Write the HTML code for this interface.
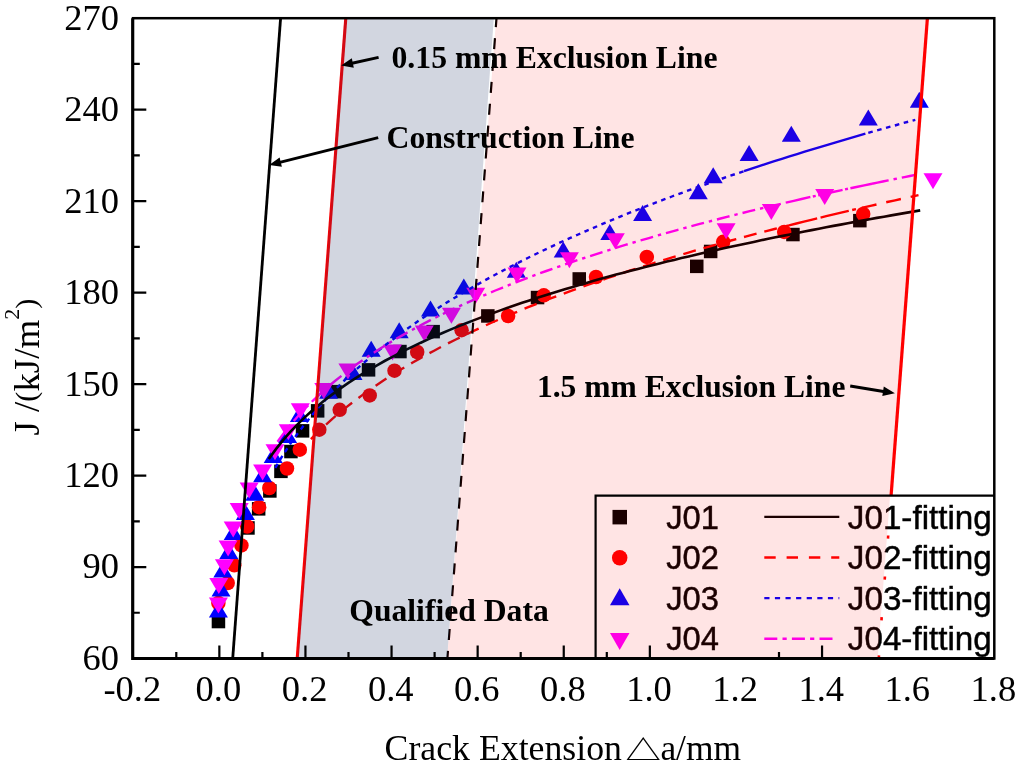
<!DOCTYPE html>
<html lang="en"><head><meta charset="utf-8"><title>J-R curves</title>
<style>html,body{margin:0;padding:0;background:#fff}svg{display:block}.s{font-family:"Liberation Serif","Noto Serif CJK SC",serif}.a{font-family:"Liberation Sans",sans-serif}</style></head><body>
<svg width="1020" height="767" viewBox="0 0 1020 767">
<rect width="1020" height="767" fill="#fff"/>
<defs><clipPath id="cp"><rect x="133.00" y="18.20" width="861.30" height="640.30"/></clipPath></defs>
<g>
<rect width="1020" height="767" fill="#fff"/>
<g clip-path="url(#cp)">
<g><rect x="211.7" y="614.8" width="13.5" height="13.5" fill="#000"/><rect x="241.2" y="521.2" width="13.5" height="13.5" fill="#000"/><rect x="251.9" y="502.1" width="13.5" height="13.5" fill="#000"/><rect x="263.1" y="484.2" width="13.5" height="13.5" fill="#000"/><rect x="274.2" y="464.6" width="13.5" height="13.5" fill="#000"/><rect x="284.2" y="444.8" width="13.5" height="13.5" fill="#000"/><rect x="295.8" y="424.1" width="13.5" height="13.5" fill="#000"/><rect x="310.9" y="404.1" width="13.5" height="13.5" fill="#000"/><rect x="328.1" y="384.9" width="13.5" height="13.5" fill="#000"/><rect x="361.8" y="363.1" width="13.5" height="13.5" fill="#000"/><rect x="393.2" y="344.8" width="13.5" height="13.5" fill="#000"/><rect x="426.4" y="324.9" width="13.5" height="13.5" fill="#000"/><rect x="481.1" y="309.2" width="13.5" height="13.5" fill="#000"/><rect x="530.8" y="290.8" width="13.5" height="13.5" fill="#000"/><rect x="572.5" y="272.2" width="13.5" height="13.5" fill="#000"/><rect x="690.0" y="259.6" width="13.5" height="13.5" fill="#000"/><rect x="703.9" y="244.7" width="13.5" height="13.5" fill="#000"/><rect x="786.2" y="227.8" width="13.5" height="13.5" fill="#000"/><rect x="853.1" y="213.9" width="13.5" height="13.5" fill="#000"/></g>
<g><circle cx="218.4" cy="603.0" r="7.25" fill="#f00"/><circle cx="227.7" cy="583.0" r="7.25" fill="#f00"/><circle cx="234.3" cy="565.3" r="7.25" fill="#f00"/><circle cx="241.4" cy="545.4" r="7.25" fill="#f00"/><circle cx="247.2" cy="526.5" r="7.25" fill="#f00"/><circle cx="259.1" cy="507.2" r="7.25" fill="#f00"/><circle cx="269.3" cy="488.0" r="7.25" fill="#f00"/><circle cx="287.0" cy="468.5" r="7.25" fill="#f00"/><circle cx="299.8" cy="449.7" r="7.25" fill="#f00"/><circle cx="319.3" cy="429.7" r="7.25" fill="#f00"/><circle cx="339.7" cy="409.8" r="7.25" fill="#f00"/><circle cx="369.7" cy="395.4" r="7.25" fill="#f00"/><circle cx="394.5" cy="370.7" r="7.25" fill="#f00"/><circle cx="417.2" cy="352.0" r="7.25" fill="#f00"/><circle cx="461.6" cy="330.2" r="7.25" fill="#f00"/><circle cx="508.1" cy="316.0" r="7.25" fill="#f00"/><circle cx="543.8" cy="295.3" r="7.25" fill="#f00"/><circle cx="596.0" cy="277.0" r="7.25" fill="#f00"/><circle cx="646.8" cy="256.9" r="7.25" fill="#f00"/><circle cx="723.2" cy="241.8" r="7.25" fill="#f00"/><circle cx="784.2" cy="231.9" r="7.25" fill="#f00"/><circle cx="863.2" cy="214.0" r="7.25" fill="#f00"/></g>
<g><polygon points="218.4,601.4 227.9,617.4 208.9,617.4" fill="#00f"/><polygon points="221.0,580.4 230.5,596.4 211.5,596.4" fill="#00f"/><polygon points="222.8,561.5 232.3,577.5 213.3,577.5" fill="#00f"/><polygon points="228.8,543.1 238.3,559.1 219.3,559.1" fill="#00f"/><polygon points="233.2,523.9 242.7,539.9 223.7,539.9" fill="#00f"/><polygon points="245.4,503.9 254.9,519.9 235.9,519.9" fill="#00f"/><polygon points="254.8,484.7 264.3,500.7 245.3,500.7" fill="#00f"/><polygon points="262.6,466.2 272.1,482.2 253.1,482.2" fill="#00f"/><polygon points="273.2,447.0 282.7,463.0 263.7,463.0" fill="#00f"/><polygon points="287.6,427.1 297.1,443.1 278.1,443.1" fill="#00f"/><polygon points="299.4,406.0 308.9,422.0 289.9,422.0" fill="#00f"/><polygon points="328.6,382.7 338.1,398.7 319.1,398.7" fill="#00f"/><polygon points="353.0,363.9 362.5,379.9 343.5,379.9" fill="#00f"/><polygon points="371.2,340.7 380.7,356.7 361.7,356.7" fill="#00f"/><polygon points="399.2,322.2 408.7,338.2 389.7,338.2" fill="#00f"/><polygon points="430.5,300.5 440.0,316.5 421.0,316.5" fill="#00f"/><polygon points="463.8,278.4 473.3,294.4 454.3,294.4" fill="#00f"/><polygon points="516.3,261.7 525.8,277.7 506.8,277.7" fill="#00f"/><polygon points="563.2,241.6 572.7,257.6 553.7,257.6" fill="#00f"/><polygon points="609.8,223.9 619.3,239.9 600.3,239.9" fill="#00f"/><polygon points="642.6,205.0 652.1,221.0 633.1,221.0" fill="#00f"/><polygon points="698.3,183.3 707.8,199.3 688.8,199.3" fill="#00f"/><polygon points="713.2,167.2 722.7,183.2 703.7,183.2" fill="#00f"/><polygon points="749.1,145.0 758.6,161.0 739.6,161.0" fill="#00f"/><polygon points="791.3,125.7 800.8,141.7 781.8,141.7" fill="#00f"/><polygon points="868.3,109.4 877.8,125.4 858.8,125.4" fill="#00f"/><polygon points="919.3,91.7 928.8,107.7 909.8,107.7" fill="#00f"/></g>
</g>
<g><polygon points="208.9,597.5 227.9,597.5 218.4,613.5" fill="#f0f"/><polygon points="209.3,578.1 228.3,578.1 218.8,594.1" fill="#f0f"/><polygon points="214.9,559.2 233.9,559.2 224.4,575.2" fill="#f0f"/><polygon points="218.6,540.6 237.6,540.6 228.1,556.6" fill="#f0f"/><polygon points="223.7,521.6 242.7,521.6 233.2,537.6" fill="#f0f"/><polygon points="229.7,503.0 248.7,503.0 239.2,519.0" fill="#f0f"/><polygon points="239.7,482.5 258.7,482.5 249.2,498.5" fill="#f0f"/><polygon points="253.1,464.4 272.1,464.4 262.6,480.4" fill="#f0f"/><polygon points="265.5,444.3 284.5,444.3 275.0,460.3" fill="#f0f"/><polygon points="278.8,424.3 297.8,424.3 288.3,440.3" fill="#f0f"/><polygon points="290.8,403.3 309.8,403.3 300.3,419.3" fill="#f0f"/><polygon points="314.3,382.9 333.3,382.9 323.8,398.9" fill="#f0f"/><polygon points="338.4,363.4 357.4,363.4 347.9,379.4" fill="#f0f"/><polygon points="383.0,344.5 402.0,344.5 392.5,360.5" fill="#f0f"/><polygon points="414.8,325.5 433.8,325.5 424.3,341.5" fill="#f0f"/><polygon points="441.9,307.8 460.9,307.8 451.4,323.8" fill="#f0f"/><polygon points="466.2,287.8 485.2,287.8 475.7,303.8" fill="#f0f"/><polygon points="507.5,267.4 526.5,267.4 517.0,283.4" fill="#f0f"/><polygon points="559.9,252.2 578.9,252.2 569.4,268.2" fill="#f0f"/><polygon points="605.8,233.3 624.8,233.3 615.3,249.3" fill="#f0f"/><polygon points="716.6,223.2 735.6,223.2 726.1,239.2" fill="#f0f"/><polygon points="761.8,203.9 780.8,203.9 771.3,219.9" fill="#f0f"/><polygon points="815.2,188.9 834.2,188.9 824.7,204.9" fill="#f0f"/><polygon points="923.5,173.2 942.5,173.2 933.0,189.2" fill="#f0f"/></g>
<g clip-path="url(#cp)">
<polyline points="275.3,467.8 282.5,455.8 289.7,444.7 296.9,434.5 304.2,424.9 311.4,416.0 318.6,407.5 325.8,399.5 333.0,391.9 340.2,384.6 347.4,377.6 354.6,370.9 361.8,364.5 369.1,358.3 376.3,352.4 383.5,346.6 390.7,341.0 397.9,335.6 405.1,330.3 412.3,325.2 419.5,320.2 426.7,315.4 433.9,310.7 441.2,306.1 448.4,301.6 455.6,297.2 462.8,292.9 470.0,288.7 477.2,284.6 484.4,280.6 491.6,276.7 498.8,272.8 506.1,269.0 513.3,265.3 520.5,261.6 527.7,258.0 534.9,254.5 542.1,251.0 549.3,247.6 556.5,244.2 563.7,240.9 570.9,237.7 578.2,234.5 585.4,231.3 592.6,228.2 599.8,225.1 607.0,222.1 614.2,219.1 621.4,216.1 628.6,213.2 635.8,210.4 643.1,207.5 650.3,204.7 657.5,202.0 664.7,199.2 671.9,196.5 679.1,193.9 686.3,191.2 693.5,188.6 700.7,186.1 707.9,183.5 715.2,181.0 722.4,178.5 729.6,176.0 736.8,173.6 744.0,171.2" fill="none" stroke="#00f" stroke-width="2.4" stroke-dasharray="4.6 4.6"/><polyline points="744.0,171.2 751.6,168.6 759.2,166.1 766.8,163.7 774.4,161.2 781.9,158.8 789.5,156.4 797.1,154.1 804.7,151.7 812.3,149.4 819.9,147.1 827.5,144.8 835.0,142.6 842.6,140.3 850.2,138.1 857.8,135.9 865.4,133.7" fill="none" stroke="#00f" stroke-width="2.4"/><polyline points="865.4,133.7 871.6,131.9 877.9,130.2 884.1,128.4 890.3,126.7 896.6,125.0 902.8,123.2 909.1,121.5 915.3,119.8" fill="none" stroke="#00f" stroke-width="2.4" stroke-dasharray="0 3 4.6 1.6"/>
<polyline points="277.5,441.8 284.7,432.0 292.0,423.0 299.3,414.7 306.5,407.0 313.8,399.8 321.1,393.0 328.3,386.5 335.6,380.5 342.9,374.7 350.1,369.1 357.4,363.8 364.6,358.8 371.9,353.9 379.2,349.2 386.4,344.7 393.7,340.3 401.0,336.1 408.2,332.0 415.5,328.0 422.8,324.1 430.0,320.4 437.3,316.7 444.6,313.2 451.8,309.7 459.1,306.3 466.4,303.0 473.6,299.8 480.9,296.6 488.1,293.6 495.4,290.5 502.7,287.6 509.9,284.7 517.2,281.8 524.5,279.1 531.7,276.3 539.0,273.6 546.3,271.0 553.5,268.4 560.8,265.9 568.1,263.4 575.3,260.9 582.6,258.5 589.9,256.1 597.1,253.8 604.4,251.5 611.6,249.2 618.9,246.9 626.2,244.7 633.4,242.5 640.7,240.4 648.0,238.3 655.2,236.2 662.5,234.1 669.8,232.1 677.0,230.1 684.3,228.1 691.6,226.1 698.8,224.2 706.1,222.3 713.4,220.4 720.6,218.5 727.9,216.7 735.1,214.8 742.4,213.0 749.7,211.2 756.9,209.5 764.2,207.7 771.5,206.0 778.7,204.3 786.0,202.6" fill="none" stroke="#f0f" stroke-width="2.4" stroke-dasharray="13 5 3.4 5"/><polyline points="786.0,202.6 793.8,200.8 801.6,199.0 809.5,197.2 817.3,195.5 825.1,193.7 832.9,192.0 840.7,190.3 848.5,188.6 856.4,187.0 864.2,185.3 872.0,183.7" fill="none" stroke="#f0f" stroke-width="2.4" stroke-dasharray="25 2.5 3 2.5"/><polyline points="872.0,183.7 877.4,182.6 882.8,181.5 888.2,180.4 893.6,179.3 899.1,178.2 904.5,177.1 909.9,176.0 915.3,174.9" fill="none" stroke="#f0f" stroke-width="2.4" stroke-dasharray="17 5 3.4 5"/>
<polyline points="310.9,439.1 318.2,431.9 325.4,425.1 332.6,418.6 339.9,412.5 347.1,406.6 354.4,401.0 361.6,395.6 368.9,390.4 376.1,385.4 383.4,380.5 390.6,375.9 397.8,371.3 405.1,367.0 412.3,362.7 419.6,358.6 426.8,354.6 434.1,350.7 441.3,346.8 448.5,343.1 455.8,339.5 463.0,336.0 470.3,332.5 477.5,329.1 484.8,325.8 492.0,322.5 499.3,319.4 506.5,316.2 513.7,313.2 521.0,310.2 528.2,307.2 535.5,304.3 542.7,301.5 550.0,298.7 557.2,296.0 564.4,293.3 571.7,290.6 578.9,288.0 586.2,285.4 593.4,282.9 600.7,280.4 607.9,277.9 615.2,275.5 622.4,273.1 629.6,270.7 636.9,268.4 644.1,266.1 651.4,263.8 658.6,261.5 665.9,259.3 673.1,257.1 680.3,255.0 687.6,252.8 694.8,250.7 702.1,248.6 709.3,246.6 716.6,244.5 723.8,242.5 731.1,240.5 738.3,238.6 745.5,236.6 752.8,234.7 760.0,232.8 767.3,230.9 774.5,229.0 781.8,227.2 789.0,225.3" fill="none" stroke="#f00" stroke-width="2.4" stroke-dasharray="13 8"/><polyline points="789.0,225.3 796.4,223.5 803.9,221.6 811.3,219.8 818.8,218.0 826.2,216.2 833.7,214.4 841.1,212.6 848.6,210.9 856.0,209.1" fill="none" stroke="#f00" stroke-width="2.4" stroke-dasharray="29 3.5"/><polyline points="856.0,209.1 863.8,207.3 871.6,205.6 879.4,203.8 887.2,202.0 895.1,200.3 902.9,198.6 910.7,196.9 918.5,195.2" fill="none" stroke="#f00" stroke-width="2.4" stroke-dasharray="0 6 15 4"/>
<polyline points="268.8,458.9 276.1,448.9 283.3,439.9 290.5,431.7 297.8,424.1 305.0,417.1 312.2,410.5 319.5,404.4 326.7,398.6 334.0,393.1 341.2,387.9 348.4,382.9 355.7,378.2 362.9,373.6 370.1,369.3 377.4,365.1 384.6,361.0 391.9,357.1 399.1,353.3 406.3,349.7 413.6,346.2 420.8,342.7 428.0,339.4 435.3,336.1 442.5,333.0 449.8,329.9 457.0,326.9 464.2,324.0 471.5,321.1 478.7,318.4 485.9,315.6 493.2,313.0 500.4,310.4 507.7,307.8 514.9,305.3 522.1,302.8 529.4,300.4 536.6,298.1 543.8,295.8 551.1,293.5 558.3,291.2 565.6,289.0 572.8,286.9 580.0,284.8 587.3,282.7 594.5,280.6 601.7,278.6 609.0,276.6 616.2,274.6 623.5,272.7 630.7,270.8 637.9,268.9 645.2,267.0 652.4,265.2 659.6,263.4 666.9,261.6 674.1,259.9 681.4,258.1 688.6,256.4 695.8,254.7 703.1,253.0 710.3,251.4 717.5,249.8 724.8,248.1 732.0,246.5 739.3,245.0 746.5,243.4 753.7,241.9 761.0,240.3 768.2,238.8 775.5,237.3 782.7,235.9 789.9,234.4 797.2,233.0 804.4,231.5 811.6,230.1 818.9,228.7 826.1,227.3 833.4,225.9 840.6,224.6 847.8,223.2 855.1,221.9 862.3,220.6 869.5,219.2 876.8,217.9 884.0,216.7 891.3,215.4 898.5,214.1 905.7,212.9 913.0,211.6 920.2,210.4" fill="none" stroke="#000" stroke-width="2.6"/>
<line x1="280.6" y1="18.2" x2="232.7" y2="658.5" stroke="#000" stroke-width="2.8"/>
<line x1="345.8" y1="18.2" x2="297.2" y2="658.5" stroke="#f00" stroke-width="3.1"/>
<line x1="496.5" y1="18.2" x2="447.4" y2="658.5" stroke="#000" stroke-width="2.2" stroke-dasharray="11 10.95" stroke-dashoffset="2"/>
<line x1="927.4" y1="18.2" x2="878.7" y2="658.5" stroke="#f00" stroke-width="3.2"/>
</g>
<rect x="595.6" y="495.6" width="398.70" height="162.90" fill="#fff"/>
<line x1="888.2" y1="535.5" x2="888.0" y2="538.7" stroke="#f00" stroke-width="2.6"/>
<line x1="884.9" y1="576.5" x2="884.7" y2="579.7" stroke="#f00" stroke-width="2.6"/>
<line x1="881.7" y1="617.1" x2="881.5" y2="620.3" stroke="#f00" stroke-width="2.6"/>
<line x1="879.0" y1="655.4" x2="878.8" y2="658.6" stroke="#f00" stroke-width="2.6"/>
<rect x="612.5" y="509.9" width="14.5" height="14.5" fill="#000"/>
<circle cx="619.7" cy="557.7" r="7.75" fill="#f00"/>
<polygon points="619.7,588.3 629.5,605.3 610.0,605.3" fill="#00f"/>
<polygon points="610.0,633.0 629.5,633.0 619.7,650.0" fill="#f0f"/>
<text class="a" x="666.2" y="528.9" font-size="32.7" fill="#000" stroke="#000" stroke-width="0.45">J01</text>
<text class="a" x="847.8" y="528.9" font-size="32.7" fill="#000" stroke="#000" stroke-width="0.45" textLength="144" lengthAdjust="spacingAndGlyphs">J01-fitting</text>
<text class="a" x="666.2" y="569.3" font-size="32.7" fill="#000" stroke="#000" stroke-width="0.45">J02</text>
<text class="a" x="847.8" y="569.3" font-size="32.7" fill="#000" stroke="#000" stroke-width="0.45" textLength="144" lengthAdjust="spacingAndGlyphs">J02-fitting</text>
<text class="a" x="666.2" y="609.8" font-size="32.7" fill="#000" stroke="#000" stroke-width="0.45">J03</text>
<text class="a" x="847.8" y="609.8" font-size="32.7" fill="#000" stroke="#000" stroke-width="0.45" textLength="144" lengthAdjust="spacingAndGlyphs">J03-fitting</text>
<text class="a" x="666.2" y="650.3" font-size="32.7" fill="#000" stroke="#000" stroke-width="0.45">J04</text>
<text class="a" x="847.8" y="650.3" font-size="32.7" fill="#000" stroke="#000" stroke-width="0.45" textLength="144" lengthAdjust="spacingAndGlyphs">J04-fitting</text>
<line x1="764.3" y1="516.9" x2="839.3" y2="516.9" stroke="#000" stroke-width="2.4"/>
<line x1="764.3" y1="557.5" x2="839.3" y2="557.5" stroke="#f00" stroke-width="2.4" stroke-dasharray="11.4 10.9"/>
<line x1="764.3" y1="598.1" x2="839.3" y2="598.1" stroke="#00f" stroke-width="2.4" stroke-dasharray="5.2 5.4"/>
<line x1="764.3" y1="638.8" x2="833.3" y2="638.8" stroke="#f0f" stroke-width="2.4" stroke-dasharray="13 5.2 4.2 5.2"/>
<polygon points="344.4,18.2 493.8,18.2 447.1,658.5 297.4,658.5" fill="rgb(30,50,100)" fill-opacity="0.2"/>
<polygon points="496.2,18.2 926.4,18.2 877.7,658.5 447.1,658.5" fill="rgb(255,0,0)" fill-opacity="0.105"/>
<rect x="133.0" y="18.2" width="861.3" height="640.3" fill="none" stroke="#000" stroke-width="2.5"/>
<path d="M132.6,18.2 V658.55 H994.3" fill="none" stroke="#000" stroke-width="2.9"/>
<path d="M595.6,658.5 V495.6 H994.3" fill="none" stroke="#000" stroke-width="2.2"/>
<path d="M133.0,612.76 h6.8 M133.0,567.03 h13.3 M133.0,521.29 h6.8 M133.0,475.56 h13.3 M133.0,429.82 h6.8 M133.0,384.09 h13.3 M133.0,338.35 h6.8 M133.0,292.61 h13.3 M133.0,246.88 h6.8 M133.0,201.14 h13.3 M133.0,155.41 h6.8 M133.0,109.67 h13.3 M133.0,63.94 h6.8 M176.30,658.5 v-6.5 M219.35,658.5 v-13 M262.40,658.5 v-6.5 M305.45,658.5 v-13 M348.50,658.5 v-6.5 M391.55,658.5 v-13 M434.60,658.5 v-6.5 M477.65,658.5 v-13 M520.70,658.5 v-6.5 M563.75,658.5 v-13 M606.80,658.5 v-6.5 M649.85,658.5 v-13 M779.00,658.5 v-6.5 M822.05,658.5 v-13" fill="none" stroke="#000" stroke-width="2.2"/>
<text class="s" x="118.9" y="669.9" font-size="36.5" text-anchor="end" fill="#000">60</text>
<text class="s" x="118.9" y="578.4" font-size="36.5" text-anchor="end" fill="#000">90</text>
<text class="s" x="118.9" y="487.0" font-size="36.5" text-anchor="end" fill="#000">120</text>
<text class="s" x="118.9" y="395.5" font-size="36.5" text-anchor="end" fill="#000">150</text>
<text class="s" x="118.9" y="304.0" font-size="36.5" text-anchor="end" fill="#000">180</text>
<text class="s" x="118.9" y="212.5" font-size="36.5" text-anchor="end" fill="#000">210</text>
<text class="s" x="118.9" y="121.1" font-size="36.5" text-anchor="end" fill="#000">240</text>
<text class="s" x="118.9" y="29.6" font-size="36.5" text-anchor="end" fill="#000">270</text>
<text class="s" x="132.3" y="700.8" font-size="36.5" text-anchor="middle" fill="#000">-0.2</text>
<text class="s" x="218.4" y="700.8" font-size="36.5" text-anchor="middle" fill="#000">0.0</text>
<text class="s" x="304.6" y="700.8" font-size="36.5" text-anchor="middle" fill="#000">0.2</text>
<text class="s" x="390.7" y="700.8" font-size="36.5" text-anchor="middle" fill="#000">0.4</text>
<text class="s" x="476.8" y="700.8" font-size="36.5" text-anchor="middle" fill="#000">0.6</text>
<text class="s" x="562.9" y="700.8" font-size="36.5" text-anchor="middle" fill="#000">0.8</text>
<text class="s" x="649.0" y="700.8" font-size="36.5" text-anchor="middle" fill="#000">1.0</text>
<text class="s" x="735.1" y="700.8" font-size="36.5" text-anchor="middle" fill="#000">1.2</text>
<text class="s" x="821.2" y="700.8" font-size="36.5" text-anchor="middle" fill="#000">1.4</text>
<text class="s" x="907.3" y="700.8" font-size="36.5" text-anchor="middle" fill="#000">1.6</text>
<text class="s" x="993.4" y="700.8" font-size="36.5" text-anchor="middle" fill="#000">1.8</text>
<text class="s" x="384.6" y="760.2" font-size="36" fill="#000" textLength="237.4" lengthAdjust="spacingAndGlyphs">Crack Extension</text>
<text class="s" transform="translate(625.6,760.2) scale(0.985,0.75)" font-size="36" fill="#000">△</text>
<text class="s" x="660.4" y="760.2" font-size="36" fill="#000" textLength="80.6" lengthAdjust="spacingAndGlyphs">a/mm</text>
<text class="s" transform="translate(39.2,435.6) rotate(-90)" font-size="36" fill="#000" textLength="137" lengthAdjust="spacingAndGlyphs">J /<tspan font-size="29.5" dy="-3.4">(</tspan><tspan dy="3.4">kJ/m</tspan><tspan font-size="21.5" dy="-20.4">2</tspan><tspan font-size="29.5" dy="17">)</tspan></text>
<text class="s" x="391.5" y="68" font-size="31.6" font-weight="bold" fill="#000" textLength="326" lengthAdjust="spacingAndGlyphs">0.15 mm Exclusion Line</text>
<text class="s" x="386.5" y="147.7" font-size="31.6" font-weight="bold" fill="#000" textLength="248" lengthAdjust="spacingAndGlyphs">Construction Line</text>
<text class="s" x="536.9" y="397.2" font-size="31.6" font-weight="bold" fill="#000" textLength="308.5" lengthAdjust="spacingAndGlyphs">1.5 mm Exclusion Line</text>
<text class="s" x="349.3" y="620.9" font-size="31.6" font-weight="bold" fill="#000" textLength="199.5" lengthAdjust="spacingAndGlyphs">Qualified Data</text>
<line x1="378.6" y1="57.4" x2="350.9" y2="63.5" stroke="#000" stroke-width="3.0"/><polygon points="341.1,65.6 351.8,58.3 353.8,67.7" fill="#000"/>
<line x1="378.2" y1="137.6" x2="278.8" y2="162.6" stroke="#000" stroke-width="3.0"/><polygon points="269.1,165.0 279.6,157.4 281.9,166.7" fill="#000"/>
<line x1="850.2" y1="386.0" x2="885.0" y2="391.7" stroke="#000" stroke-width="3.0"/><polygon points="894.9,393.3 882.3,396.1 883.8,386.6" fill="#000"/>
</g>
</svg></body></html>
